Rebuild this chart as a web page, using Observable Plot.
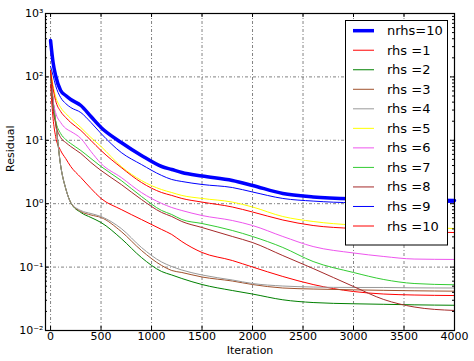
<!DOCTYPE html>
<html><head><meta charset="utf-8">
<script src="https://cdn.jsdelivr.net/npm/d3@7"></script>
<script src="https://cdn.jsdelivr.net/npm/@observablehq/plot@0.6"></script>
<style>
html,body{margin:0;padding:0;background:#fff;}
#chart{width:474px;height:361px;}
</style></head><body><div id="chart"></div>
<script>
// Iteration positions shared by all series
const iterations = [0,25,50,100,150,200,300,400,500,700,900,1100,1200,1300,1500,1800,2000,2300,2600,3000,3300,3600,4000];

const nrhs10 = [375,168.7,105.2,61.0,50.9,44.0,35.4,23.7,15.9,9.23,5.76,3.86,3.46,3.11,2.73,2.32,1.94,1.45,1.28,1.19,1.165,1.14,1.12];
const rhs1  = [75.9,22.1,11.5,6.90,5.16,3.86,2.59,1.74,1.21,0.810,0.563,0.392,0.327,0.253,0.170,0.127,0.1003,0.0711,0.0531,0.0412,0.0376,0.0363,0.0356];
const rhs2  = [109.1,42.4,19.8,4.00,1.74,1.04,0.727,0.606,0.505,0.282,0.1416,0.0852,0.0751,0.0661,0.0531,0.0427,0.0376,0.0305,0.0276,0.0264,0.0259,0.0254,0.0250];
const rhs3  = [126.2,42.4,19.8,4.00,1.74,1.04,0.753,0.664,0.606,0.364,0.183,0.106,0.0884,0.0822,0.0698,0.0603,0.0531,0.0468,0.0451,0.0438,0.0430,0.0423,0.0417];
const rhs4  = [117.3,42.4,19.8,4.00,1.74,1.04,0.781,0.700,0.628,0.406,0.204,0.1203,0.1022,0.0900,0.0751,0.0626,0.0551,0.0503,0.0485,0.0477,0.0477,0.0471,0.0468];
const rhs5  = [135.7,73.2,49.1,32.9,26.5,22.1,15.9,11.07,7.98,3.86,2.32,1.67,1.50,1.35,1.21,1.06,0.887,0.628,0.524,0.461,0.445,0.429,0.406];
const rhs6  = [117.3,42.4,27.4,19.1,15.4,13.8,10.7,6.66,4.31,2.59,1.50,1.01,0.871,0.781,0.651,0.543,0.453,0.304,0.211,0.167,0.147,0.134,0.132];
const rhs7  = [109.1,35.4,20.5,12.8,10.3,8.90,6.90,5.16,3.86,2.32,1.30,0.781,0.675,0.563,0.487,0.378,0.304,0.204,0.1225,0.0822,0.0637,0.0551,0.0526];
const rhs8  = [126.2,31.7,18.4,11.07,9.23,7.98,6.19,4.47,3.34,2.01,1.165,0.727,0.628,0.524,0.421,0.304,0.244,0.152,0.0950,0.0494,0.0308,0.0235,0.0207];
const rhs9  = [145.9,105.2,73.2,47.3,38.0,32.9,27.4,19.1,12.8,6.42,4.15,2.79,2.41,2.24,2.01,1.80,1.53,1.21,1.10,1.04,1.04,1.04,1.05];
const rhs10 = [126.2,65.6,42.4,28.5,22.9,19.1,14.3,9.93,6.90,3.72,2.16,1.50,1.35,1.21,1.06,0.887,0.740,0.553,0.453,0.406,0.385,0.364,0.351];

const seriesNames  = ["nrhs=10","rhs =1","rhs =2","rhs =3","rhs =4","rhs =5","rhs =6","rhs =7","rhs =8","rhs =9","rhs =10"];
const seriesValues = [nrhs10,rhs1,rhs2,rhs3,rhs4,rhs5,rhs6,rhs7,rhs8,rhs9,rhs10];
const seriesColors = ["#0000ff","#ff0000","#008000","#a0522d","#999999","#ffff00","#ee55ee","#33cc33","#a52a2a","#0000ff","#ff0000"];
const seriesWidths = [3.5,1,1,1,1,1,1,1,1,1,1];

const xTicks = [0,500,1000,1500,2000,2500,3000,3500,4000];
const yTicks = [0.01,0.1,1,10,100,1000];
const yTickLabels = ["10\u207B\u00B2","10\u207B\u00B9","10\u2070","10\u00B9","10\u00B2","10\u00B3"];
const yMinorTicks = [0.01,0.1,1,10,100].flatMap(b => [2,3,4,5,6,7,8,9].map(m => b*m));

const rows = [];
seriesValues.forEach((vals, si) => vals.forEach((v, i) => rows.push({series: seriesNames[si], idx: si, it: iterations[i], v})));

const W = 474, H = 361, mL = 45, mR = 20, mT = 13, mB = 31;
const innerW = W - mL - mR, innerH = H - mT - mB;

const gridStyle = {stroke: "#000", strokeOpacity: 0.7, strokeWidth: 0.7, strokeDasharray: "3,2,1,2"};

const marks = [
  Plot.gridX(xTicks, gridStyle),
  Plot.gridY(yTicks, gridStyle),
  ...seriesNames.map((name, si) => Plot.line(rows.filter(r => r.idx === si), {
    x: "it", y: "v", stroke: seriesColors[si], strokeWidth: seriesWidths[si], curve: "monotone-x"
  })),
  // inward ticks
  Plot.tickX(xTicks, {x: d => d, insetTop: innerH - 4, stroke: "#000"}),
  Plot.tickX(xTicks, {x: d => d, insetBottom: innerH - 4, stroke: "#000"}),
  Plot.tickY(yTicks, {y: d => d, insetRight: innerW - 4, stroke: "#000"}),
  Plot.tickY(yTicks, {y: d => d, insetLeft: innerW - 4, stroke: "#000"}),
  Plot.tickY(yMinorTicks, {y: d => d, insetRight: innerW - 2, stroke: "#000"}),
  Plot.tickY(yMinorTicks, {y: d => d, insetLeft: innerW - 2, stroke: "#000"}),
  Plot.frame({stroke: "#000", strokeWidth: 1.2}),
  Plot.axisX(xTicks, {tickSize: 0, tickPadding: 2, tickFormat: d => String(d), fontSize: 11, label: null}),
  Plot.axisY(yTicks, {tickSize: 0, tickPadding: 2, tickFormat: d => yTickLabels[yTicks.indexOf(d)], fontSize: 11, label: null}),
  Plot.text(["Iteration"], {frameAnchor: "bottom", dy: 23, fontSize: 11, fill: "#000"}),
  Plot.text(["Residual"], {frameAnchor: "left", dx: -35, rotate: -90, fontSize: 11, fill: "#000"})
];

const plot = Plot.plot({
  width: W, height: H,
  marginLeft: mL, marginRight: mR, marginTop: mT, marginBottom: mB,
  style: {fontFamily: "'DejaVu Sans', sans-serif", fontSize: "11px", background: "#fff", color: "#000"},
  x: {domain: [-50, 4000]},
  y: {type: "log", domain: [0.01, 1000]},
  marks
});

// Legend box (top right, inside the axes)
const svg = d3.select(plot);
const lg = svg.append("g").attr("font-family", "'DejaVu Sans', sans-serif").attr("font-size", 13).attr("text-anchor", "start");
lg.append("rect").attr("x", 345.5).attr("y", 20.5).attr("width", 102).attr("height", 224.5)
  .attr("fill", "#fff").attr("stroke", "#000").attr("stroke-width", 1);
seriesNames.forEach((name, i) => {
  const y = 30.7 + i * 19.53;
  lg.append("line").attr("x1", 353).attr("x2", 374).attr("y1", y).attr("y2", y)
    .attr("stroke", seriesColors[i]).attr("stroke-width", seriesWidths[i]);
  lg.append("text").attr("x", 387).attr("y", y).attr("dy", "0.35em").attr("fill", "#000")
    .attr("text-anchor", "start").text(name);
});

document.getElementById("chart").appendChild(plot);
</script>
</body></html>
